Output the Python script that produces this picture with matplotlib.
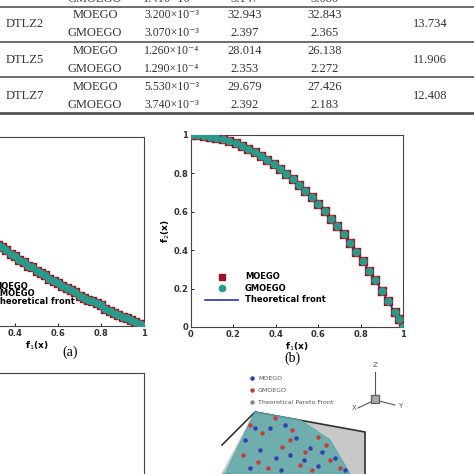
import matplotlib
matplotlib.use("Agg")
import matplotlib.pyplot as plt
from matplotlib.lines import Line2D

# ---------------- data ----------------
problems = ["DTLZ2", "DTLZ5", "DTLZ7"]
methods = ["MOEGO", "GMOEGO"]
igd = [["3.200×10⁻³", "3.070×10⁻³"], ["1.260×10⁻⁴", "1.290×10⁻⁴"], ["5.530×10⁻³", "3.740×10⁻³"]]
time_total = [["32.943", "2.397"], ["28.014", "2.353"], ["29.679", "2.392"]]
time_model = [["32.843", "2.365"], ["26.138", "2.272"], ["27.426", "2.183"]]
speedup = ["13.734", "11.906", "12.408"]

# (a) front
a_f1 = [0.30, 0.32, 0.34, 0.36, 0.38, 0.40, 0.42, 0.44, 0.46, 0.48, 0.50, 0.52, 0.54, 0.56, 0.58, 0.60, 0.62, 0.64, 0.66, 0.68, 0.70, 0.72, 0.74, 0.76, 0.78, 0.80, 0.82, 0.84, 0.86, 0.88, 0.90, 0.92, 0.94, 0.96, 0.98, 1.00]
a_f2 = [0.45, 0.43, 0.42, 0.40, 0.38, 0.37, 0.35, 0.34, 0.32, 0.31, 0.29, 0.28, 0.27, 0.25, 0.24, 0.23, 0.21, 0.20, 0.19, 0.18, 0.16, 0.15, 0.14, 0.13, 0.12, 0.11, 0.09, 0.08, 0.07, 0.06, 0.05, 0.04, 0.03, 0.02, 0.01, 0.00]
# (b) front
b_f1 = [0.00, 0.03, 0.06, 0.09, 0.12, 0.15, 0.18, 0.21, 0.24, 0.27, 0.30, 0.33, 0.36, 0.39, 0.42, 0.45, 0.48, 0.51, 0.54, 0.57, 0.60, 0.63, 0.66, 0.69, 0.72, 0.75, 0.78, 0.81, 0.84, 0.87, 0.90, 0.93, 0.96, 0.98, 1.00]
b_f2 = [1.00, 0.999, 0.996, 0.992, 0.986, 0.978, 0.968, 0.956, 0.942, 0.927, 0.91, 0.891, 0.87, 0.848, 0.824, 0.798, 0.77, 0.74, 0.708, 0.675, 0.64, 0.603, 0.564, 0.524, 0.482, 0.438, 0.392, 0.344, 0.294, 0.243, 0.19, 0.135, 0.078, 0.04, 0.00]
b_theory_f1 = [0, 0.1, 0.2, 0.3, 0.4, 0.5, 0.6, 0.7, 0.8, 0.9, 0.95, 1.0]
b_theory_f2 = [1, 0.99, 0.96, 0.91, 0.84, 0.75, 0.64, 0.51, 0.36, 0.19, 0.0975, 0]
# (c) partial points
c_x = [0.20, 0.20, 0.205, 0.21, 0.21]
c_y = [0.58, 0.55, 0.52, 0.49, 0.46]
# (d) 3D-ish scatter (projected)
d_red_x = [250, 262, 275, 290, 305, 318, 330, 243, 258, 282, 300, 312, 326, 268, 292, 340]
d_red_y = [425, 433, 418, 440, 452, 437, 460, 455, 462, 447, 465, 470, 445, 468, 430, 468]
d_blue_x = [245, 255, 270, 285, 296, 310, 322, 335, 260, 276, 290, 304, 318, 250, 281, 345]
d_blue_y = [440, 428, 428, 425, 438, 448, 452, 458, 450, 458, 455, 460, 466, 468, 470, 470]

W = H = 474
fig = plt.figure(figsize=(4.74, 4.74), dpi=100)
fig.patch.set_facecolor("white")

# ---------------- table ----------------
tab = fig.add_axes([0, 0, 1, 1], zorder=0)
tab.set_xlim(0, W); tab.set_ylim(H, 0); tab.axis("off")
serif = ["Liberation Serif", "DejaVu Serif"]
fs = 9
for y, lw in [(7, 1.2), (42, 1.2), (77, 1.2), (113, 2.0)]:
    tab.plot([0, W], [y, y], color="#555555", lw=lw)
for x, s in [(95, "GMOEGO"), (172, "1.410×10⁻³"), (245, "3.147"), (325, "3.080")]:
    tab.text(x, -1, s, ha="center", va="center", fontsize=fs, family=serif, color="#444")
for i, p in enumerate(problems):
    ym = 24 + 36 * i
    tab.text(6, ym, p, ha="left", va="center", fontsize=fs, family=serif, color="#333")
    tab.text(430, ym, speedup[i], ha="center", va="center", fontsize=fs, family=serif, color="#333")
    for j, m in enumerate(methods):
        yy = ym - 9 + 18 * j
        tab.text(95, yy, m, ha="center", va="center", fontsize=fs, family=serif, color="#333")
        tab.text(172, yy, igd[i][j], ha="center", va="center", fontsize=fs - 0.5, family=serif, color="#333")
        tab.text(245, yy, time_total[i][j], ha="center", va="center", fontsize=fs, family=serif, color="#333")
        tab.text(325, yy, time_model[i][j], ha="center", va="center", fontsize=fs, family=serif, color="#333")
tab.text(70, 352, "(a)", ha="center", va="center", fontsize=10, family=serif)
tab.text(292, 358, "(b)", ha="center", va="center", fontsize=10, family=serif)

red = "#a01020"; teal = "#2a9a8a"; blue = "#2030c0"

def style(ax):
    ax.tick_params(labelsize=6, length=2.5, width=0.6, direction="in", pad=2)
    for s in ax.spines.values():
        s.set_linewidth(0.8); s.set_color("#444")
    for t in ax.get_xticklabels() + ax.get_yticklabels():
        t.set_fontweight("bold"); t.set_color("#333")

ticks = [0, 0.2, 0.4, 0.6, 0.8, 1]
tlabs = ["0", "0.2", "0.4", "0.6", "0.8", "1"]

# ---------------- (a) ----------------
axa = fig.add_axes([-71 / W, (H - 326) / H, 215 / W, 189 / H], zorder=1)
axa.plot(a_f1, a_f2, color=blue, lw=1.2)
axa.scatter(a_f1, a_f2, marker="s", s=30, color=red, zorder=3)
axa.scatter(a_f1, a_f2, marker="o", s=24, color=teal, zorder=4)
axa.set_xlim(0, 1); axa.set_ylim(0, 1)
axa.set_xticks(ticks); axa.set_xticklabels(tlabs)
axa.set_yticks([])
axa.set_xlabel("f$_1$(x)", fontsize=6.5, fontweight="bold", labelpad=1)
style(axa)
axa.text(0.30, 0.21, "MOEGO", fontsize=6, fontweight="bold", va="center")
axa.text(0.30, 0.17, "GMOEGO", fontsize=6, fontweight="bold", va="center")
axa.text(0.30, 0.13, "Theoretical front", fontsize=6, fontweight="bold", va="center")

# ---------------- (b) ----------------
axb = fig.add_axes([191 / W, (H - 327) / H, 212 / W, 192 / H], zorder=1)
axb.plot(b_theory_f1, b_theory_f2, color=blue, lw=1.2)
axb.scatter(b_f1, b_f2, marker="s", s=30, color=red, zorder=3)
axb.scatter(b_f1, b_f2, marker="o", s=24, color=teal, zorder=4)
axb.set_xlim(0, 1); axb.set_ylim(0, 1)
axb.set_xticks(ticks); axb.set_xticklabels(tlabs)
axb.set_yticks(ticks); axb.set_yticklabels(tlabs)
axb.set_xlabel("f$_1$(x)", fontsize=6.5, fontweight="bold", labelpad=1)
axb.set_ylabel("f$_2$(x)", fontsize=6.5, fontweight="bold", labelpad=1)
style(axb)
handles = [Line2D([], [], marker="s", ls="", color=red, ms=5),
           Line2D([], [], marker="o", ls="", color=teal, ms=4.5),
           Line2D([], [], color=blue, lw=1.2)]
leg = axb.legend(handles, ["MOEGO", "GMOEGO", "Theoretical front"], loc=(0.05, 0.1),
                 frameon=False, fontsize=6, handlelength=4, labelspacing=0.3)
for t in leg.get_texts():
    t.set_fontweight("bold")

# ---------------- (c) partial ----------------
axc = fig.add_axes([-71 / W, (H - 563) / H, 215 / W, 190 / H], zorder=1)
axc.scatter(c_x, c_y, marker="s", s=14, color="#6a3a7a")
axc.set_xlim(0, 1); axc.set_ylim(0, 1)
axc.set_xticks([]); axc.set_yticks([])
style(axc)

# ---------------- (d) partial 3D ----------------
tab2 = fig.add_axes([0, 0, 1, 1], zorder=2)
tab2.set_xlim(0, W); tab2.set_ylim(H, 0); tab2.axis("off")
tab2.fill([222, 255, 365, 365, 222], [474, 412, 432, 474, 474], color="#c8c8c8", zorder=1)
tab2.plot([222, 255, 365, 365], [445, 412, 432, 474], color="#333", lw=1.2, zorder=2)
tab2.fill([225, 255, 300, 330, 350, 222], [474, 412, 420, 440, 474, 474], color="#5aa8a8", alpha=0.8, zorder=2)
tab2.scatter(d_red_x, d_red_y, s=5, color="#c04040", zorder=3)
tab2.scatter(d_blue_x, d_blue_y, s=5, color="#3040b0", zorder=3)
for yy, lab, col in [(378, "MOEGO", "#3040b0"), (390, "GMOEGO", "#c04040"), (402, "Theoretical Pareto Front", "#888")]:
    tab2.scatter([252], [yy], s=5, color=col)
    tab2.text(258, yy, lab, fontsize=4.5, va="center", color="#555")
tab2.plot([375, 375], [395, 372], color="#555", lw=0.8)
tab2.plot([375, 358], [400, 408], color="#555", lw=0.8)
tab2.plot([375, 395], [400, 405], color="#555", lw=0.8)
tab2.scatter([375], [399], marker="s", s=30, color="#aaa", edgecolor="#666", zorder=3)
tab2.text(375, 367, "Z", fontsize=5, ha="center", color="#555")
tab2.text(354, 410, "X", fontsize=5, ha="center", color="#555")
tab2.text(400, 408, "Y", fontsize=5, ha="center", color="#555")

fig.savefig("out.png", dpi=100)
